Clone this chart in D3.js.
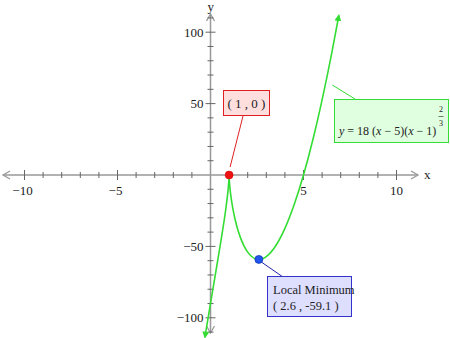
<!DOCTYPE html>
<html><head><meta charset="utf-8">
<script src="https://cdn.jsdelivr.net/npm/d3@7"></script>
<style>
html,body{margin:0;padding:0;background:#fff;}
</style></head>
<body>
<svg id="c" width="450" height="338"></svg>
<script>
// Curve points (x, y)
const curveX = [-0.3, -0.2, 0, 0.2, 0.4, 0.6, 0.8, 0.9, 0.95, 0.98, 0.99, 1,
  1.01, 1.02, 1.05, 1.1, 1.2, 1.4, 1.6, 1.8, 2.0, 2.2, 2.4, 2.6, 2.8, 3.0, 3.5, 4.0, 4.5, 5.0, 5.5, 6.0, 6.5, 6.9];
const curveY = [-113.6, -105.7, -90, -74.5, -58.9, -43.0, -25.9, -15.9, -9.9, -5.3, -3.35, 0,
  -3.3, -5.3, -9.65, -15.1, -23.4, -35.2, -43.5, -49.6, -54, -56.9, -58.6, -59.1, -58.6, -57.1, -49.7, -37.4, -20.7, 0, 24.5, 52.6, 84.1, 111.7];
const xTickLabels = [-10, -5, 5, 10];
const yTickLabels = [-100, -50, 50, 100];
const xMinorTicks = d3.range(-10, 11, 1).filter(v => v !== 0);
const yMinorTicks = d3.range(-110, 111, 10).filter(v => v !== 0);
const redPoint = [1, 0];
const redLabel = "( 1 , 0 )";
const minPoint = [2.6, -59.1];
const minLabel = ["Local Minimum", "( 2.6 , -59.1 )"];
const eqAnchor = [6.55, 63];

const FONT = "Liberation Serif, DejaVu Serif, Noto Serif, serif";
const svg = d3.select("#c");
const x = d3.scaleLinear().domain([-10, 10]).range([24.5, 396.5]);
const y = d3.scaleLinear().domain([-100, 100]).range([317.8, 32.2]);
const x0 = x(0), y0 = y(0);
const axisCol = "#999";
const textCol = "#222";
const txt = (sel) => sel.append("text").style("font-family", FONT).attr("fill", textCol);

// defs for curve arrows
const defs = svg.append("defs");
defs.append("marker").attr("id", "ga").attr("viewBox", "0 0 10 10")
  .attr("refX", 8).attr("refY", 5).attr("markerWidth", 7).attr("markerHeight", 7)
  .attr("markerUnits", "userSpaceOnUse")
  .attr("orient", "auto-start-reverse")
  .append("path").attr("d", "M0,0 L10,5 L0,10 Z").attr("fill", "#33dd33");

// axes
const g = svg.append("g");
g.append("line").attr("x1", 3).attr("x2", 418).attr("y1", y0).attr("y2", y0)
  .attr("stroke", axisCol).attr("stroke-width", 1.5);
g.append("line").attr("x1", x0).attr("x2", x0).attr("y1", 14).attr("y2", 333)
  .attr("stroke", axisCol).attr("stroke-width", 1.5);
const chev = (d) => g.append("path").attr("d", d).attr("fill", "none")
  .attr("stroke", axisCol).attr("stroke-width", 1.3);
chev(`M10,${y0-4} L3,${y0} L10,${y0+4}`);
chev(`M411,${y0-4} L418,${y0} L411,${y0+4}`);
chev(`M${x0-4},21 L${x0},14 L${x0+4},21`);
chev(`M${x0-4},326 L${x0},333 L${x0+4},326`);

// ticks
xMinorTicks.forEach(v => {
  const major = v % 5 === 0;
  g.append("line").attr("x1", x(v)).attr("x2", x(v))
    .attr("y1", y0 - (major ? 5 : 3)).attr("y2", y0 + (major ? 5 : 3))
    .attr("stroke", "#666").attr("stroke-width", 1);
});
yMinorTicks.forEach(v => {
  const major = v % 50 === 0;
  g.append("line").attr("y1", y(v)).attr("y2", y(v))
    .attr("x1", x0 - (major ? 5 : 3)).attr("x2", x0 + (major ? 5 : 3))
    .attr("stroke", "#666").attr("stroke-width", 1);
});
const fmt = v => (v < 0 ? "\u2212" : "") + Math.abs(v);
xTickLabels.forEach(v => {
  txt(g).attr("x", x(v) + (v < 0 ? -2 : 0)).attr("y", y0 + 20)
    .attr("text-anchor", "middle").attr("font-size", 13).text(fmt(v));
});
yTickLabels.forEach(v => {
  txt(g).attr("x", x0 - 7).attr("y", y(v) + 4.5)
    .attr("text-anchor", "end").attr("font-size", 13).text(fmt(v));
});
txt(g).attr("x", 424).attr("y", y0 + 4).attr("font-size", 13).text("x");
txt(g).attr("x", x0 - 3).attr("y", 11).attr("font-size", 13).text("y");

// curve
const pts = curveX.map((v, i) => [v, curveY[i]]);
const line = d3.line().x(d => x(d[0])).y(d => y(d[1])).curve(d3.curveMonotoneX);
svg.append("path").attr("d", line(pts)).attr("fill", "none")
  .attr("stroke", "#33dd33").attr("stroke-width", 1.6)
  .attr("marker-start", "url(#ga)").attr("marker-end", "url(#ga)");

// red callout
svg.append("line").attr("x1", x(redPoint[0]) + 1).attr("y1", y(redPoint[1]) - 8)
  .attr("x2", 243).attr("y2", 116).attr("stroke", "#dd2222").attr("stroke-width", 1);
svg.append("rect").attr("x", 223.5).attr("y", 90.5).attr("width", 46).attr("height", 25)
  .attr("fill", "#ffdede").attr("stroke", "#e02020").attr("stroke-width", 1);
txt(svg).attr("x", 246.5).attr("y", 107.5).attr("text-anchor", "middle")
  .attr("font-size", 13).text(redLabel);
svg.append("circle").attr("cx", x(redPoint[0])).attr("cy", y(redPoint[1])).attr("r", 4)
  .attr("fill", "#ee1111").attr("stroke", "#cc0000").attr("stroke-width", 0.5);

// green equation callout
svg.append("line").attr("x1", x(eqAnchor[0])).attr("y1", y(eqAnchor[1]))
  .attr("x2", 355).attr("y2", 99).attr("stroke", "#33dd33").attr("stroke-width", 1);
svg.append("rect").attr("x", 334.5).attr("y", 99.5).attr("width", 114).attr("height", 43)
  .attr("fill", "#e0ffe0").attr("stroke", "#33dd33").attr("stroke-width", 1);
const eq = txt(svg).attr("x", 339).attr("y", 135).attr("font-size", 12);
eq.append("tspan").attr("font-style", "italic").text("y");
eq.append("tspan").text(" = 18 (");
eq.append("tspan").attr("font-style", "italic").text("x");
eq.append("tspan").text(" \u2212 5)(");
eq.append("tspan").attr("font-style", "italic").text("x");
eq.append("tspan").text(" \u2212 1)");
txt(svg).attr("x", 441).attr("y", 112).attr("text-anchor", "middle")
  .attr("font-size", 8).text("2");
svg.append("line").attr("x1", 438.5).attr("x2", 443.5).attr("y1", 116.5).attr("y2", 116.5)
  .attr("stroke", textCol).attr("stroke-width", 0.6);
txt(svg).attr("x", 441).attr("y", 126).attr("text-anchor", "middle")
  .attr("font-size", 8).text("3");

// blue callout
svg.append("line").attr("x1", x(minPoint[0]) + 3).attr("y1", y(minPoint[1]) + 3)
  .attr("x2", 283).attr("y2", 277).attr("stroke", "#2222aa").attr("stroke-width", 1);
svg.append("rect").attr("x", 267.5).attr("y", 276.5).attr("width", 84).attr("height", 40)
  .attr("fill", "#dedeff").attr("stroke", "#3333cc").attr("stroke-width", 1);
txt(svg).attr("x", 273).attr("y", 294).attr("font-size", 12.5).text(minLabel[0]);
txt(svg).attr("x", 273).attr("y", 310).attr("font-size", 12.5).text(minLabel[1]);
svg.append("circle").attr("cx", x(minPoint[0])).attr("cy", y(minPoint[1])).attr("r", 4)
  .attr("fill", "#2255ee").attr("stroke", "#1133aa").attr("stroke-width", 0.7);
</script>
</body></html>
